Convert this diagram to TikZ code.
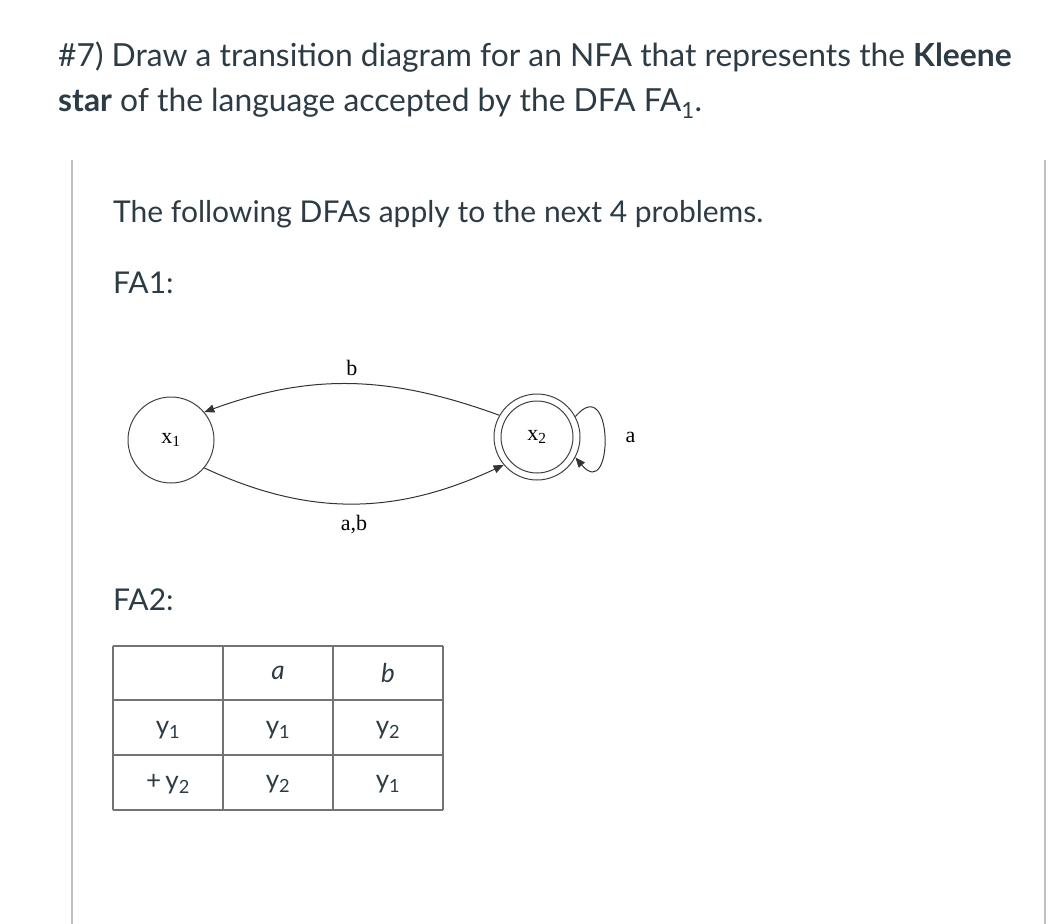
\documentclass[tikz,border=0pt]{standalone}
\usepackage{fontspec}
\setmainfont{Lato}
\newfontfamily\serif{Liberation Serif}
\usetikzlibrary{arrows.meta}
\definecolor{txt}{HTML}{2D3B45}
\begin{document}
\begin{tikzpicture}[x=1pt,y=-1pt,
  st/.style={draw=black!75,circle,minimum size=86pt,inner sep=0pt,line width=1pt,font=\serif\fontsize{22}{22}\selectfont},
  lbl/.style={font=\serif\fontsize{22}{22}\selectfont},
  edge/.style={draw=black!80,line width=1pt,-{Triangle[length=10pt,width=8pt]}},
  body/.style={anchor=west,text=txt,font=\fontsize{30}{30}\selectfont},
  cell/.style={font=\fontsize{26}{26}\selectfont,text=txt}]
\useasboundingbox (0,0) rectangle (1058,924);
\node[anchor=west,text=txt,font=\fontsize{31.8}{32}\selectfont,inner sep=0pt] (t1) at (58,57) {\#7) Draw a transition diagram for an NFA that represents the \textbf{Kleene}};
\node[anchor=west,text=txt,font=\fontsize{31.8}{32}\selectfont,inner sep=0pt] (t2) at (58,103) {\textbf{star} of the language accepted by the DFA FA\textsubscript{1}.};
\draw[black!25,line width=1.5pt] (72,160) -- (72,924);
\draw[black!25,line width=1.5pt] (1045,160) -- (1045,924);
\node[body,inner sep=0pt] (p1) at (113,214) {The following DFAs apply to the next 4 problems.};
\node[body,inner sep=0pt] (fa1) at (113,283) {FA1:};
\node[body,inner sep=0pt] (fa2) at (113,600) {FA2:};
\node[st] (x1) at (171,440) {x\textsubscript{1}};
\node[st] (x2) at (537,437) {x\textsubscript{2}};
\node[draw=black!75,circle,minimum size=72pt,line width=1pt] (x2i) at (537,437) {};
\draw[edge] (x2.150) to[out=160,in=20] node[lbl,above=4pt] {b} (x1.40);
\draw[edge] (x1.-40) to[out=-25,in=-155] node[lbl,below=8pt] {a,b} (x2.-140);
\draw[edge] (x2.28) to[out=50,in=-50,distance=60pt] (x2.-28);
\node[lbl,anchor=west] (la) at (622,437) {a};
\foreach \x in {113,223,333,443} \draw[black!55,line width=1.2pt] (\x,646) -- (\x,810);
\foreach \y in {646,700,755,810} \draw[black!55,line width=1.2pt] (113,\y) -- (443,\y);
\node[cell] (ha) at (278,673) {\textit{a}};
\node[cell] (hb) at (388,673) {\textit{b}};
\node[cell] (r1) at (168,730) {y\textsubscript{1}};
\node[cell] (r1a) at (278,730) {y\textsubscript{1}};
\node[cell] (r1b) at (388,730) {y\textsubscript{2}};
\node[cell] (r2) at (168,784) {+\,y\textsubscript{2}};
\node[cell] (r2a) at (278,784) {y\textsubscript{2}};
\node[cell] (r2b) at (388,784) {y\textsubscript{1}};
\end{tikzpicture}
\end{document}
